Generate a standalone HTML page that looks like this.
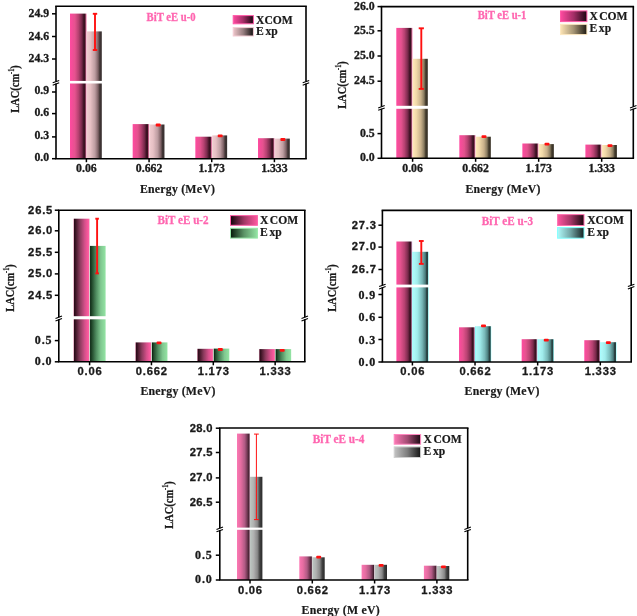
<!DOCTYPE html>
<html><head><meta charset="utf-8"><title>BiTeEu LAC charts</title>
<style>html,body{margin:0;padding:0;background:#fff;overflow:hidden;}svg{display:block;filter:blur(0.35px);}</style></head><body>
<svg width="637" height="616" viewBox="0 0 637 616">
<defs>
<linearGradient id="g0x" x1="0" y1="0" x2="1" y2="0">
<stop offset="0" stop-color="#ff4aa0"/>
<stop offset="0.3" stop-color="#e4528e"/>
<stop offset="0.5" stop-color="#b84272"/>
<stop offset="0.7" stop-color="#7a2a4c"/>
<stop offset="0.83" stop-color="#3c1222"/>
<stop offset="0.9" stop-color="#3a1020"/>
<stop offset="0.95" stop-color="#c06088"/>
<stop offset="1" stop-color="#ffa0c8"/>
</linearGradient>
<linearGradient id="g0e" x1="0" y1="0" x2="1" y2="0">
<stop offset="0" stop-color="#f8d8dc"/>
<stop offset="0.06" stop-color="#eecacd"/>
<stop offset="0.25" stop-color="#e6c0c4"/>
<stop offset="0.55" stop-color="#bc9ca0"/>
<stop offset="0.75" stop-color="#806468"/>
<stop offset="0.87" stop-color="#403434"/>
<stop offset="1" stop-color="#383030"/>
</linearGradient>
<linearGradient id="g1x" x1="0" y1="0" x2="1" y2="0">
<stop offset="0" stop-color="#ff4aa0"/>
<stop offset="0.3" stop-color="#e4528e"/>
<stop offset="0.5" stop-color="#b84272"/>
<stop offset="0.7" stop-color="#7a2a4c"/>
<stop offset="0.83" stop-color="#3c1222"/>
<stop offset="0.9" stop-color="#3a1020"/>
<stop offset="0.95" stop-color="#c06088"/>
<stop offset="1" stop-color="#ffa0c8"/>
</linearGradient>
<linearGradient id="g1e" x1="0" y1="0" x2="1" y2="0">
<stop offset="0" stop-color="#fff0c8"/>
<stop offset="0.06" stop-color="#fde6b6"/>
<stop offset="0.25" stop-color="#f0d8a8"/>
<stop offset="0.55" stop-color="#c8b08a"/>
<stop offset="0.75" stop-color="#8a7c60"/>
<stop offset="0.87" stop-color="#40382a"/>
<stop offset="1" stop-color="#383226"/>
</linearGradient>
<linearGradient id="g2x" x1="0" y1="0" x2="1" y2="0">
<stop offset="0" stop-color="#f0a0c0"/>
<stop offset="0.06" stop-color="#2a0a18"/>
<stop offset="0.12" stop-color="#3a1222"/>
<stop offset="0.4" stop-color="#8a3a5c"/>
<stop offset="0.7" stop-color="#d4508a"/>
<stop offset="0.93" stop-color="#ff5aa0"/>
<stop offset="1" stop-color="#e8a0b8"/>
</linearGradient>
<linearGradient id="g2e" x1="0" y1="0" x2="1" y2="0">
<stop offset="0" stop-color="#b8dcc0"/>
<stop offset="0.06" stop-color="#0c2814"/>
<stop offset="0.1" stop-color="#1a3c22"/>
<stop offset="0.4" stop-color="#4e8a5e"/>
<stop offset="0.7" stop-color="#80c890"/>
<stop offset="1" stop-color="#94e4a4"/>
</linearGradient>
<linearGradient id="g3x" x1="0" y1="0" x2="1" y2="0">
<stop offset="0" stop-color="#ff4aa0"/>
<stop offset="0.25" stop-color="#e4528e"/>
<stop offset="0.5" stop-color="#b84272"/>
<stop offset="0.72" stop-color="#7a2a4c"/>
<stop offset="0.84" stop-color="#3c1222"/>
<stop offset="0.89" stop-color="#3a1020"/>
<stop offset="0.95" stop-color="#a07090"/>
<stop offset="1" stop-color="#e8d8f0"/>
</linearGradient>
<linearGradient id="g3e" x1="0" y1="0" x2="1" y2="0">
<stop offset="0" stop-color="#80ffff"/>
<stop offset="0.08" stop-color="#b0f8f8"/>
<stop offset="0.3" stop-color="#a0ecec"/>
<stop offset="0.6" stop-color="#78b8b8"/>
<stop offset="0.8" stop-color="#4a7c7c"/>
<stop offset="0.88" stop-color="#2a4040"/>
<stop offset="0.94" stop-color="#284444"/>
<stop offset="1" stop-color="#90ffff"/>
</linearGradient>
<linearGradient id="g4x" x1="0" y1="0" x2="1" y2="0">
<stop offset="0" stop-color="#fc78b4"/>
<stop offset="0.3" stop-color="#e46ca0"/>
<stop offset="0.6" stop-color="#b05a84"/>
<stop offset="0.85" stop-color="#5e2e44"/>
<stop offset="0.92" stop-color="#40202e"/>
<stop offset="1" stop-color="#d8a8c4"/>
</linearGradient>
<linearGradient id="g4e" x1="0" y1="0" x2="1" y2="0">
<stop offset="0" stop-color="#c0c8c4"/>
<stop offset="0.1" stop-color="#b8c0bc"/>
<stop offset="0.3" stop-color="#b0b0b0"/>
<stop offset="0.6" stop-color="#888888"/>
<stop offset="0.8" stop-color="#404040"/>
<stop offset="1" stop-color="#2a2a2a"/>
</linearGradient>
<linearGradient id="lc0x" x1="0" y1="0" x2="1" y2="0"><stop offset="0" stop-color="#ff4aa0"/><stop offset="0.5" stop-color="#a32e66"/><stop offset="1" stop-color="#1a0610"/></linearGradient>
<linearGradient id="lc0e" x1="0" y1="0" x2="1" y2="0"><stop offset="0" stop-color="#eec6ca"/><stop offset="0.5" stop-color="#967d7f"/><stop offset="1" stop-color="#141010"/></linearGradient>
<linearGradient id="lc1x" x1="0" y1="0" x2="1" y2="0"><stop offset="0" stop-color="#ff4aa0"/><stop offset="0.5" stop-color="#a32e66"/><stop offset="1" stop-color="#1a0610"/></linearGradient>
<linearGradient id="lc1e" x1="0" y1="0" x2="1" y2="0"><stop offset="0" stop-color="#fde4b4"/><stop offset="0.5" stop-color="#a39373"/><stop offset="1" stop-color="#1e1a12"/></linearGradient>
<linearGradient id="lc2x" x1="0" y1="0" x2="1" y2="0"><stop offset="0" stop-color="#12040a"/><stop offset="0.5" stop-color="#a03764"/><stop offset="1" stop-color="#ff5aa0"/></linearGradient>
<linearGradient id="lc2e" x1="0" y1="0" x2="1" y2="0"><stop offset="0" stop-color="#061a0a"/><stop offset="0.5" stop-color="#5b9366"/><stop offset="1" stop-color="#94e4a4"/></linearGradient>
<linearGradient id="lc3x" x1="0" y1="0" x2="1" y2="0"><stop offset="0" stop-color="#ff55a0"/><stop offset="0.5" stop-color="#a33566"/><stop offset="1" stop-color="#1a0610"/></linearGradient>
<linearGradient id="lc3e" x1="0" y1="0" x2="1" y2="0"><stop offset="0" stop-color="#b0fafa"/><stop offset="0.5" stop-color="#71a3a3"/><stop offset="1" stop-color="#142222"/></linearGradient>
<linearGradient id="lc4x" x1="0" y1="0" x2="1" y2="0"><stop offset="0" stop-color="#fc78b4"/><stop offset="0.5" stop-color="#a34c74"/><stop offset="1" stop-color="#1e0a14"/></linearGradient>
<linearGradient id="lc4e" x1="0" y1="0" x2="1" y2="0"><stop offset="0" stop-color="#c4c4c4"/><stop offset="0.5" stop-color="#7d7d7d"/><stop offset="1" stop-color="#141414"/></linearGradient>
</defs>
<rect width="637" height="616" fill="#fff"/>
<g id="c0">
<rect x="70" y="13.6" width="16.7" height="67.3" fill="url(#g0x)"/>
<rect x="70" y="83.5" width="16.7" height="75.2" fill="url(#g0x)"/>
<rect x="86.7" y="31.4" width="15.1" height="49.5" fill="url(#g0e)"/>
<rect x="86.7" y="83.5" width="15.1" height="75.2" fill="url(#g0e)"/>
<rect x="132.67" y="124.1" width="16.7" height="34.6" fill="url(#g0x)"/>
<rect x="149.37" y="124.5" width="15.1" height="34.2" fill="url(#g0e)"/>
<rect x="195.34" y="136.7" width="16.7" height="22" fill="url(#g0x)"/>
<rect x="212.04" y="135.4" width="15.1" height="23.3" fill="url(#g0e)"/>
<rect x="258.01" y="138.2" width="16.7" height="20.5" fill="url(#g0x)"/>
<rect x="274.71" y="138.6" width="15.1" height="20.1" fill="url(#g0e)"/>
<g stroke="#ff1010" stroke-width="1.9" fill="none">
<line x1="95" y1="13.8" x2="95" y2="50"/>
<line x1="92.8" y1="13.8" x2="97.2" y2="13.8"/>
<line x1="92.8" y1="50" x2="97.2" y2="50"/>
</g>
<rect x="155.7" y="123.6" width="5" height="2.8" rx="1" fill="#ff1010"/>
<rect x="217.7" y="134.5" width="5" height="2.8" rx="1" fill="#ff1010"/>
<rect x="280.4" y="138.1" width="5" height="2.8" rx="1" fill="#ff1010"/>
<g stroke="#000" stroke-width="1.6" fill="none">
<line x1="55.2" y1="6.3" x2="306.8" y2="6.3"/>
<line x1="55.2" y1="158.7" x2="306.8" y2="158.7"/>
<line x1="56" y1="6.3" x2="56" y2="81.6"/>
<line x1="56" y1="83.6" x2="56" y2="158.7"/>
<line x1="306" y1="6.3" x2="306" y2="81.6"/>
<line x1="306" y1="83.6" x2="306" y2="158.7"/>
</g>
<g stroke="#000" stroke-width="1.1" fill="none">
<line x1="52.7" y1="82.8" x2="59.2" y2="80.4"/>
<line x1="52.7" y1="85.2" x2="59.2" y2="82.8"/>
<line x1="302.7" y1="82.8" x2="309.2" y2="80.4"/>
<line x1="302.7" y1="85.2" x2="309.2" y2="82.8"/>
</g>
<g stroke="#000" stroke-width="1.5">
<line x1="52" y1="13.8" x2="56" y2="13.8"/>
<line x1="52" y1="36.5" x2="56" y2="36.5"/>
<line x1="52" y1="59" x2="56" y2="59"/>
<line x1="52" y1="92" x2="56" y2="92"/>
<line x1="52" y1="113.6" x2="56" y2="113.6"/>
<line x1="52" y1="136.9" x2="56" y2="136.9"/>
<line x1="52" y1="158.7" x2="56" y2="158.7"/>
<line x1="86.4" y1="158.7" x2="86.4" y2="162.2"/>
<line x1="149.07" y1="158.7" x2="149.07" y2="162.2"/>
<line x1="211.74" y1="158.7" x2="211.74" y2="162.2"/>
<line x1="274.41" y1="158.7" x2="274.41" y2="162.2"/>
</g>
<g font-family="&quot;Liberation Serif&quot;, &quot;Times New Roman&quot;, serif" font-weight="bold" font-size="11.8" fill="#1a1a1a" stroke="#1a1a1a" stroke-width="0.3">
<text x="49.2" y="16.8" text-anchor="end">24.9</text>
<text x="49.2" y="39.5" text-anchor="end">24.6</text>
<text x="49.2" y="62" text-anchor="end">24.3</text>
</g>
<g font-family="&quot;Liberation Serif&quot;, &quot;Times New Roman&quot;, serif" font-weight="bold" font-size="11.8" fill="#1a1a1a" stroke="#1a1a1a" stroke-width="0.3">
<text x="49.2" y="94.3" text-anchor="end">0.9</text>
<text x="49.2" y="115.9" text-anchor="end">0.6</text>
<text x="49.2" y="139.2" text-anchor="end">0.3</text>
<text x="49.2" y="161" text-anchor="end">0.0</text>
</g>
<g font-family="&quot;Liberation Serif&quot;, &quot;Times New Roman&quot;, serif" font-weight="bold" font-size="11.8" fill="#1a1a1a" stroke="#1a1a1a" stroke-width="0.3">
<text x="86.4" y="172.3" text-anchor="middle">0.06</text>
<text x="149.07" y="172.3" text-anchor="middle">0.662</text>
<text x="211.74" y="172.3" text-anchor="middle">1.173</text>
<text x="274.41" y="172.3" text-anchor="middle">1.333</text>
</g>
<text x="146.6" y="20.6" font-family="&quot;Liberation Serif&quot;, &quot;Times New Roman&quot;, serif" font-weight="bold" font-size="12" fill="#ff66b0" stroke="#ff66b0" stroke-width="0.3" textLength="48.9" lengthAdjust="spacingAndGlyphs">BiT eE u-0</text>
<rect x="233.2" y="15.6" width="20.2" height="8.2" fill="url(#lc0x)" stroke="#ff5aa8" stroke-width="1"/>
<rect x="233.2" y="27.6" width="20.2" height="8.4" fill="url(#lc0e)" stroke="#f4ccd4" stroke-width="1"/>
<g font-family="&quot;Liberation Serif&quot;, &quot;Times New Roman&quot;, serif" font-weight="bold" font-size="11.6" fill="#1a1a1a" stroke="#1a1a1a" stroke-width="0.2">
<text x="256.1" y="23.5">XCOM</text>
<text x="256.1" y="34.7">E <tspan dx="-1.2">xp</tspan></text>
</g>
<text transform="translate(19.4,89) rotate(-90)" text-anchor="middle" font-family="&quot;Liberation Serif&quot;, &quot;Times New Roman&quot;, serif" font-weight="bold" font-size="13.4" fill="#1a1a1a" stroke="#1a1a1a" stroke-width="0.3" textLength="47.6" lengthAdjust="spacingAndGlyphs">LAC(cm<tspan font-size="8" dy="-5">-1</tspan><tspan dy="5">)</tspan></text>
<text x="140" y="192.5" font-family="&quot;Liberation Serif&quot;, &quot;Times New Roman&quot;, serif" font-weight="bold" font-size="11.8" letter-spacing="0.22" fill="#1a1a1a" stroke="#1a1a1a" stroke-width="0.2">Energy (MeV)</text>
</g>
<g id="c1">
<rect x="396.3" y="27.9" width="16.3" height="77.9" fill="url(#g1x)"/>
<rect x="396.3" y="108.8" width="16.3" height="49.5" fill="url(#g1x)"/>
<rect x="412.6" y="58.8" width="15.2" height="47" fill="url(#g1e)"/>
<rect x="412.6" y="108.8" width="15.2" height="49.5" fill="url(#g1e)"/>
<rect x="459.33" y="135.2" width="16.3" height="23.1" fill="url(#g1x)"/>
<rect x="475.63" y="136.7" width="15.2" height="21.6" fill="url(#g1e)"/>
<rect x="522.36" y="143.5" width="16.3" height="14.8" fill="url(#g1x)"/>
<rect x="538.66" y="144.1" width="15.2" height="14.2" fill="url(#g1e)"/>
<rect x="585.39" y="144.6" width="16.3" height="13.7" fill="url(#g1x)"/>
<rect x="601.69" y="145" width="15.2" height="13.3" fill="url(#g1e)"/>
<g stroke="#ff1010" stroke-width="1.9" fill="none">
<line x1="421.3" y1="28.3" x2="421.3" y2="88.9"/>
<line x1="418.7" y1="28.3" x2="423.9" y2="28.3"/>
<line x1="418.7" y1="88.9" x2="423.9" y2="88.9"/>
</g>
<rect x="481.5" y="135.3" width="5" height="2.8" rx="1" fill="#ff1010"/>
<rect x="544.5" y="142.8" width="5" height="2.8" rx="1" fill="#ff1010"/>
<rect x="607.5" y="144.3" width="5" height="2.8" rx="1" fill="#ff1010"/>
<g stroke="#000" stroke-width="1.6" fill="none">
<line x1="380.7" y1="6.6" x2="634.1" y2="6.6"/>
<line x1="380.7" y1="158.3" x2="634.1" y2="158.3"/>
<line x1="381.5" y1="6.6" x2="381.5" y2="106.7"/>
<line x1="381.5" y1="108.7" x2="381.5" y2="158.3"/>
<line x1="633.3" y1="6.6" x2="633.3" y2="106.7"/>
<line x1="633.3" y1="108.7" x2="633.3" y2="158.3"/>
</g>
<g stroke="#000" stroke-width="1.1" fill="none">
<line x1="378.2" y1="107.9" x2="384.7" y2="105.5"/>
<line x1="378.2" y1="110.3" x2="384.7" y2="107.9"/>
<line x1="630" y1="107.9" x2="636.5" y2="105.5"/>
<line x1="630" y1="110.3" x2="636.5" y2="107.9"/>
</g>
<g stroke="#000" stroke-width="1.5">
<line x1="377.5" y1="6.6" x2="381.5" y2="6.6"/>
<line x1="377.5" y1="30.8" x2="381.5" y2="30.8"/>
<line x1="377.5" y1="56" x2="381.5" y2="56"/>
<line x1="377.5" y1="81.2" x2="381.5" y2="81.2"/>
<line x1="377.5" y1="133.6" x2="381.5" y2="133.6"/>
<line x1="377.5" y1="158.3" x2="381.5" y2="158.3"/>
<line x1="412.6" y1="158.3" x2="412.6" y2="161.8"/>
<line x1="475.63" y1="158.3" x2="475.63" y2="161.8"/>
<line x1="538.66" y1="158.3" x2="538.66" y2="161.8"/>
<line x1="601.69" y1="158.3" x2="601.69" y2="161.8"/>
</g>
<g font-family="&quot;Liberation Serif&quot;, &quot;Times New Roman&quot;, serif" font-weight="bold" font-size="11.8" fill="#1a1a1a" stroke="#1a1a1a" stroke-width="0.3">
<text x="374.7" y="9.6" text-anchor="end">26.0</text>
<text x="374.7" y="33.8" text-anchor="end">25.5</text>
<text x="374.7" y="59" text-anchor="end">25.0</text>
<text x="374.7" y="84.2" text-anchor="end">24.5</text>
</g>
<g font-family="&quot;Liberation Serif&quot;, &quot;Times New Roman&quot;, serif" font-weight="bold" font-size="11.8" fill="#1a1a1a" stroke="#1a1a1a" stroke-width="0.3">
<text x="374.7" y="136.6" text-anchor="end">0.5</text>
<text x="374.7" y="161.3" text-anchor="end">0.0</text>
</g>
<g font-family="&quot;Liberation Serif&quot;, &quot;Times New Roman&quot;, serif" font-weight="bold" font-size="11.8" fill="#1a1a1a" stroke="#1a1a1a" stroke-width="0.3">
<text x="412.6" y="172.3" text-anchor="middle">0.06</text>
<text x="475.63" y="172.3" text-anchor="middle">0.662</text>
<text x="538.66" y="172.3" text-anchor="middle">1.173</text>
<text x="601.69" y="172.3" text-anchor="middle">1.333</text>
</g>
<text x="477.8" y="19.3" font-family="&quot;Liberation Serif&quot;, &quot;Times New Roman&quot;, serif" font-weight="bold" font-size="12" fill="#ff66b0" stroke="#ff66b0" stroke-width="0.3" textLength="48.5" lengthAdjust="spacingAndGlyphs">BiT eE u-1</text>
<rect x="560.5" y="10.9" width="26.4" height="10.7" fill="url(#lc1x)" stroke="#ff5aa8" stroke-width="1"/>
<rect x="560.5" y="24.3" width="26.4" height="10.3" fill="url(#lc1e)" stroke="#fde8c0" stroke-width="1"/>
<g font-family="&quot;Liberation Serif&quot;, &quot;Times New Roman&quot;, serif" font-weight="bold" font-size="11.6" fill="#1a1a1a" stroke="#1a1a1a" stroke-width="0.2">
<text x="589.4" y="20.05">X <tspan dx="-1.5">COM</tspan></text>
<text x="589.4" y="32.35">E <tspan dx="-1.2">xp</tspan></text>
</g>
<text transform="translate(345.7,85) rotate(-90)" text-anchor="middle" font-family="&quot;Liberation Serif&quot;, &quot;Times New Roman&quot;, serif" font-weight="bold" font-size="13.4" fill="#1a1a1a" stroke="#1a1a1a" stroke-width="0.3" textLength="47.6" lengthAdjust="spacingAndGlyphs">LAC(cm<tspan font-size="8" dy="-5">-1</tspan><tspan dy="5">)</tspan></text>
<text x="465.5" y="193" font-family="&quot;Liberation Serif&quot;, &quot;Times New Roman&quot;, serif" font-weight="bold" font-size="11.8" letter-spacing="0.22" fill="#1a1a1a" stroke="#1a1a1a" stroke-width="0.2">Energy (MeV)</text>
</g>
<g id="c2">
<rect x="73.4" y="218.7" width="16.2" height="97.5" fill="url(#g2x)"/>
<rect x="73.4" y="319.3" width="16.2" height="42.5" fill="url(#g2x)"/>
<rect x="89.6" y="245.9" width="16" height="70.3" fill="url(#g2e)"/>
<rect x="89.6" y="319.3" width="16" height="42.5" fill="url(#g2e)"/>
<rect x="135.25" y="342.4" width="16.2" height="19.4" fill="url(#g2x)"/>
<rect x="151.45" y="342.4" width="16" height="19.4" fill="url(#g2e)"/>
<rect x="197.1" y="348.8" width="16.2" height="13" fill="url(#g2x)"/>
<rect x="213.3" y="348.6" width="16" height="13.2" fill="url(#g2e)"/>
<rect x="258.95" y="349.1" width="16.2" height="12.7" fill="url(#g2x)"/>
<rect x="275.15" y="349.1" width="16" height="12.7" fill="url(#g2e)"/>
<g stroke="#ff1010" stroke-width="1.9" fill="none">
<line x1="97.1" y1="218.7" x2="97.1" y2="273.4"/>
<line x1="95.3" y1="218.7" x2="98.9" y2="218.7"/>
<line x1="95.3" y1="273.4" x2="98.9" y2="273.4"/>
</g>
<rect x="156.5" y="341.5" width="5" height="2.8" rx="1" fill="#ff1010"/>
<rect x="217.8" y="348.1" width="5" height="2.8" rx="1" fill="#ff1010"/>
<rect x="279.7" y="349" width="5" height="2.8" rx="1" fill="#ff1010"/>
<g stroke="#000" stroke-width="1.6" fill="none">
<line x1="58" y1="210.2" x2="305.6" y2="210.2"/>
<line x1="58" y1="361.8" x2="305.6" y2="361.8"/>
<line x1="58.8" y1="210.2" x2="58.8" y2="317.3"/>
<line x1="58.8" y1="319.3" x2="58.8" y2="361.8"/>
<line x1="304.8" y1="210.2" x2="304.8" y2="317.3"/>
<line x1="304.8" y1="319.3" x2="304.8" y2="361.8"/>
</g>
<g stroke="#000" stroke-width="1.1" fill="none">
<line x1="55.5" y1="318.5" x2="62" y2="316.1"/>
<line x1="55.5" y1="320.9" x2="62" y2="318.5"/>
<line x1="301.5" y1="318.5" x2="308" y2="316.1"/>
<line x1="301.5" y1="320.9" x2="308" y2="318.5"/>
</g>
<g stroke="#000" stroke-width="1.5">
<line x1="54.8" y1="210.2" x2="58.8" y2="210.2"/>
<line x1="54.8" y1="230.8" x2="58.8" y2="230.8"/>
<line x1="54.8" y1="252.3" x2="58.8" y2="252.3"/>
<line x1="54.8" y1="273.9" x2="58.8" y2="273.9"/>
<line x1="54.8" y1="295.3" x2="58.8" y2="295.3"/>
<line x1="54.8" y1="340.6" x2="58.8" y2="340.6"/>
<line x1="54.8" y1="361.8" x2="58.8" y2="361.8"/>
<line x1="89.6" y1="361.8" x2="89.6" y2="365.3"/>
<line x1="151.45" y1="361.8" x2="151.45" y2="365.3"/>
<line x1="213.3" y1="361.8" x2="213.3" y2="365.3"/>
<line x1="275.15" y1="361.8" x2="275.15" y2="365.3"/>
</g>
<g font-family="&quot;Liberation Sans&quot;, Arial, sans-serif" font-weight="bold" font-size="11.2" fill="#1a1a1a" stroke="#1a1a1a" stroke-width="0.3" letter-spacing="0.8">
<text x="53.1" y="213.5" text-anchor="end">26.5</text>
<text x="53.1" y="234.1" text-anchor="end">26.0</text>
<text x="53.1" y="255.6" text-anchor="end">25.5</text>
<text x="53.1" y="277.2" text-anchor="end">25.0</text>
<text x="53.1" y="298.6" text-anchor="end">24.5</text>
</g>
<g font-family="&quot;Liberation Serif&quot;, &quot;Times New Roman&quot;, serif" font-weight="bold" font-size="12" fill="#1a1a1a" stroke="#1a1a1a" stroke-width="0.3" letter-spacing="0.9">
<text x="52.5" y="343.9" text-anchor="end">0.5</text>
<text x="52.5" y="365.1" text-anchor="end">0.0</text>
</g>
<g font-family="&quot;Liberation Sans&quot;, Arial, sans-serif" font-weight="bold" font-size="11.2" fill="#1a1a1a" stroke="#1a1a1a" stroke-width="0.3" letter-spacing="0.8">
<text x="90" y="374.8" text-anchor="middle">0.06</text>
<text x="151.85" y="374.8" text-anchor="middle">0.662</text>
<text x="213.7" y="374.8" text-anchor="middle">1.173</text>
<text x="275.55" y="374.8" text-anchor="middle">1.333</text>
</g>
<text x="157.6" y="224.2" font-family="&quot;Liberation Serif&quot;, &quot;Times New Roman&quot;, serif" font-weight="bold" font-size="12" fill="#ff66b0" stroke="#ff66b0" stroke-width="0.3" textLength="51" lengthAdjust="spacingAndGlyphs">BiT eE u-2</text>
<rect x="230.5" y="215.6" width="26.9" height="9.7" fill="url(#lc2x)" stroke="#ff60a8" stroke-width="1"/>
<rect x="230.5" y="228.3" width="26.9" height="9.8" fill="url(#lc2e)" stroke="#98e8a8" stroke-width="1"/>
<g font-family="&quot;Liberation Serif&quot;, &quot;Times New Roman&quot;, serif" font-weight="bold" font-size="11.6" fill="#1a1a1a" stroke="#1a1a1a" stroke-width="0.2">
<text x="260" y="224.25">X <tspan dx="-1.5">COM</tspan></text>
<text x="260" y="236.1">E <tspan dx="-1.2">xp</tspan></text>
</g>
<text transform="translate(13.7,288) rotate(-90)" text-anchor="middle" font-family="&quot;Liberation Serif&quot;, &quot;Times New Roman&quot;, serif" font-weight="bold" font-size="13.4" fill="#1a1a1a" stroke="#1a1a1a" stroke-width="0.3" textLength="47.6" lengthAdjust="spacingAndGlyphs">LAC(cm<tspan font-size="8" dy="-5">-1</tspan><tspan dy="5">)</tspan></text>
<text x="140.5" y="394.5" font-family="&quot;Liberation Serif&quot;, &quot;Times New Roman&quot;, serif" font-weight="bold" font-size="11.8" letter-spacing="0.22" fill="#1a1a1a" stroke="#1a1a1a" stroke-width="0.2">Energy (MeV)</text>
</g>
<g id="c3">
<rect x="396.4" y="241.5" width="16" height="43.1" fill="url(#g3x)"/>
<rect x="396.4" y="287.4" width="16" height="74.6" fill="url(#g3x)"/>
<rect x="412.4" y="251.8" width="16.2" height="32.8" fill="url(#g3e)"/>
<rect x="412.4" y="287.4" width="16.2" height="74.6" fill="url(#g3e)"/>
<rect x="459.03" y="327.3" width="16" height="34.7" fill="url(#g3x)"/>
<rect x="475.03" y="326.2" width="16.2" height="35.8" fill="url(#g3e)"/>
<rect x="521.66" y="339.2" width="16" height="22.8" fill="url(#g3x)"/>
<rect x="537.66" y="339.2" width="16.2" height="22.8" fill="url(#g3e)"/>
<rect x="584.29" y="340.2" width="16" height="21.8" fill="url(#g3x)"/>
<rect x="600.29" y="342.2" width="16.2" height="19.8" fill="url(#g3e)"/>
<g stroke="#ff1010" stroke-width="1.9" fill="none">
<line x1="421.3" y1="241" x2="421.3" y2="263.9"/>
<line x1="418.9" y1="241" x2="423.7" y2="241"/>
<line x1="418.9" y1="263.9" x2="423.7" y2="263.9"/>
</g>
<rect x="481" y="324.5" width="5" height="2.8" rx="1" fill="#ff1010"/>
<rect x="543.8" y="338.7" width="5" height="2.8" rx="1" fill="#ff1010"/>
<rect x="605.9" y="341.3" width="5" height="2.8" rx="1" fill="#ff1010"/>
<g stroke="#000" stroke-width="1.6" fill="none">
<line x1="381.6" y1="210.4" x2="632" y2="210.4"/>
<line x1="381.6" y1="362" x2="632" y2="362"/>
<line x1="382.4" y1="210.4" x2="382.4" y2="285.4"/>
<line x1="382.4" y1="287.4" x2="382.4" y2="362"/>
<line x1="631.2" y1="210.4" x2="631.2" y2="285.4"/>
<line x1="631.2" y1="287.4" x2="631.2" y2="362"/>
</g>
<g stroke="#000" stroke-width="1.1" fill="none">
<line x1="379.1" y1="286.6" x2="385.6" y2="284.2"/>
<line x1="379.1" y1="289" x2="385.6" y2="286.6"/>
<line x1="627.9" y1="286.6" x2="634.4" y2="284.2"/>
<line x1="627.9" y1="289" x2="634.4" y2="286.6"/>
</g>
<g stroke="#000" stroke-width="1.5">
<line x1="378.4" y1="225.2" x2="382.4" y2="225.2"/>
<line x1="378.4" y1="247.1" x2="382.4" y2="247.1"/>
<line x1="378.4" y1="269.5" x2="382.4" y2="269.5"/>
<line x1="378.4" y1="294.5" x2="382.4" y2="294.5"/>
<line x1="378.4" y1="317.3" x2="382.4" y2="317.3"/>
<line x1="378.4" y1="339.5" x2="382.4" y2="339.5"/>
<line x1="378.4" y1="362" x2="382.4" y2="362"/>
<line x1="412.4" y1="362" x2="412.4" y2="365.5"/>
<line x1="475.03" y1="362" x2="475.03" y2="365.5"/>
<line x1="537.66" y1="362" x2="537.66" y2="365.5"/>
<line x1="600.29" y1="362" x2="600.29" y2="365.5"/>
</g>
<g font-family="&quot;Liberation Sans&quot;, Arial, sans-serif" font-weight="bold" font-size="11.2" fill="#1a1a1a" stroke="#1a1a1a" stroke-width="0.3" letter-spacing="0.8">
<text x="376.7" y="228.5" text-anchor="end">27.3</text>
<text x="376.7" y="250.4" text-anchor="end">27.0</text>
<text x="376.7" y="272.8" text-anchor="end">26.7</text>
</g>
<g font-family="&quot;Liberation Serif&quot;, &quot;Times New Roman&quot;, serif" font-weight="bold" font-size="12" fill="#1a1a1a" stroke="#1a1a1a" stroke-width="0.3" letter-spacing="0.9">
<text x="376.1" y="298.6" text-anchor="end">0.9</text>
<text x="376.1" y="321.4" text-anchor="end">0.6</text>
<text x="376.1" y="343.6" text-anchor="end">0.3</text>
<text x="376.1" y="366.1" text-anchor="end">0.0</text>
</g>
<g font-family="&quot;Liberation Sans&quot;, Arial, sans-serif" font-weight="bold" font-size="11.2" fill="#1a1a1a" stroke="#1a1a1a" stroke-width="0.3" letter-spacing="0.8">
<text x="412.8" y="375" text-anchor="middle">0.06</text>
<text x="475.43" y="375" text-anchor="middle">0.662</text>
<text x="538.06" y="375" text-anchor="middle">1.173</text>
<text x="600.69" y="375" text-anchor="middle">1.333</text>
</g>
<text x="481.8" y="225.2" font-family="&quot;Liberation Serif&quot;, &quot;Times New Roman&quot;, serif" font-weight="bold" font-size="12" fill="#ff66b0" stroke="#ff66b0" stroke-width="0.3" textLength="51.2" lengthAdjust="spacingAndGlyphs">BiT eE u-3</text>
<rect x="557.6" y="214.6" width="26.4" height="10.9" fill="url(#lc3x)" stroke="#ff70b0" stroke-width="1"/>
<rect x="557.6" y="227.6" width="26.4" height="10.6" fill="url(#lc3e)" stroke="#80ffff" stroke-width="1"/>
<g font-family="&quot;Liberation Serif&quot;, &quot;Times New Roman&quot;, serif" font-weight="bold" font-size="11.6" fill="#1a1a1a" stroke="#1a1a1a" stroke-width="0.2">
<text x="587.2" y="223.85">XCOM</text>
<text x="587.2" y="235.8">E <tspan dx="-1.2">xp</tspan></text>
</g>
<text transform="translate(336.2,288) rotate(-90)" text-anchor="middle" font-family="&quot;Liberation Serif&quot;, &quot;Times New Roman&quot;, serif" font-weight="bold" font-size="13.4" fill="#1a1a1a" stroke="#1a1a1a" stroke-width="0.3" textLength="47.6" lengthAdjust="spacingAndGlyphs">LAC(cm<tspan font-size="8" dy="-5">-1</tspan><tspan dy="5">)</tspan></text>
<text x="464.6" y="394.9" font-family="&quot;Liberation Serif&quot;, &quot;Times New Roman&quot;, serif" font-weight="bold" font-size="11.8" letter-spacing="0.22" fill="#1a1a1a" stroke="#1a1a1a" stroke-width="0.2">Energy (MeV)</text>
</g>
<g id="c4">
<rect x="237" y="433.6" width="13" height="94" fill="url(#g4x)"/>
<rect x="237" y="529.8" width="13" height="50.2" fill="url(#g4x)"/>
<rect x="250" y="476.8" width="12.4" height="50.8" fill="url(#g4e)"/>
<rect x="250" y="529.8" width="12.4" height="50.2" fill="url(#g4e)"/>
<rect x="299.3" y="556.4" width="13" height="23.6" fill="url(#g4x)"/>
<rect x="312.3" y="557.3" width="12.4" height="22.7" fill="url(#g4e)"/>
<rect x="361.6" y="564.8" width="13" height="15.2" fill="url(#g4x)"/>
<rect x="374.6" y="564.8" width="12.4" height="15.2" fill="url(#g4e)"/>
<rect x="423.9" y="565.7" width="13" height="14.3" fill="url(#g4x)"/>
<rect x="436.9" y="566" width="12.4" height="14" fill="url(#g4e)"/>
<g stroke="#ff1010" stroke-width="1" fill="none">
<line x1="256.4" y1="434.1" x2="256.4" y2="519.6"/>
<line x1="254" y1="434.1" x2="258.8" y2="434.1"/>
<line x1="254" y1="519.6" x2="258.8" y2="519.6"/>
</g>
<rect x="316.2" y="555.8" width="5" height="2.8" rx="1" fill="#ff1010"/>
<rect x="378.6" y="563.9" width="5" height="2.8" rx="1" fill="#ff1010"/>
<rect x="441" y="565.4" width="5" height="2.8" rx="1" fill="#ff1010"/>
<g stroke="#000" stroke-width="1.6" fill="none">
<line x1="219" y1="428" x2="468.5" y2="428"/>
<line x1="219" y1="580" x2="468.5" y2="580"/>
<line x1="219.8" y1="428" x2="219.8" y2="528.2"/>
<line x1="219.8" y1="530.2" x2="219.8" y2="580"/>
<line x1="467.7" y1="428" x2="467.7" y2="528.2"/>
<line x1="467.7" y1="530.2" x2="467.7" y2="580"/>
</g>
<g stroke="#000" stroke-width="1.1" fill="none">
<line x1="216.5" y1="529.4" x2="223" y2="527"/>
<line x1="216.5" y1="531.8" x2="223" y2="529.4"/>
<line x1="464.4" y1="529.4" x2="470.9" y2="527"/>
<line x1="464.4" y1="531.8" x2="470.9" y2="529.4"/>
</g>
<g stroke="#000" stroke-width="1.5">
<line x1="215.8" y1="428.2" x2="219.8" y2="428.2"/>
<line x1="215.8" y1="452.5" x2="219.8" y2="452.5"/>
<line x1="215.8" y1="477.9" x2="219.8" y2="477.9"/>
<line x1="215.8" y1="502.2" x2="219.8" y2="502.2"/>
<line x1="215.8" y1="555.2" x2="219.8" y2="555.2"/>
<line x1="215.8" y1="580" x2="219.8" y2="580"/>
<line x1="250" y1="580" x2="250" y2="583.5"/>
<line x1="312.3" y1="580" x2="312.3" y2="583.5"/>
<line x1="374.6" y1="580" x2="374.6" y2="583.5"/>
<line x1="436.9" y1="580" x2="436.9" y2="583.5"/>
</g>
<g font-family="&quot;Liberation Sans&quot;, Arial, sans-serif" font-weight="bold" font-size="11.2" fill="#1a1a1a" stroke="#1a1a1a" stroke-width="0.3" letter-spacing="0.8">
<text x="212.7" y="431.5" text-anchor="end" letter-spacing="0.3">28.0</text>
<text x="212.7" y="455.8" text-anchor="end" letter-spacing="0.3">27.5</text>
<text x="212.7" y="481.2" text-anchor="end" letter-spacing="0.3">27.0</text>
<text x="212.7" y="505.5" text-anchor="end" letter-spacing="0.3">26.5</text>
</g>
<g font-family="&quot;Liberation Serif&quot;, &quot;Times New Roman&quot;, serif" font-weight="bold" font-size="12" fill="#1a1a1a" stroke="#1a1a1a" stroke-width="0.3" letter-spacing="0.9">
<text x="212.7" y="558.5" text-anchor="end">0.5</text>
<text x="212.7" y="583.3" text-anchor="end">0.0</text>
</g>
<g font-family="&quot;Liberation Sans&quot;, Arial, sans-serif" font-weight="bold" font-size="11.2" fill="#1a1a1a" stroke="#1a1a1a" stroke-width="0.3" letter-spacing="0.8">
<text x="250.4" y="593.5" text-anchor="middle">0.06</text>
<text x="312.7" y="593.5" text-anchor="middle">0.662</text>
<text x="375" y="593.5" text-anchor="middle">1.173</text>
<text x="437.3" y="593.5" text-anchor="middle">1.333</text>
</g>
<text x="312.8" y="442.7" font-family="&quot;Liberation Serif&quot;, &quot;Times New Roman&quot;, serif" font-weight="bold" font-size="12" fill="#ff66b0" stroke="#ff66b0" stroke-width="0.3" textLength="51.6" lengthAdjust="spacingAndGlyphs">BiT eE u-4</text>
<rect x="394.2" y="434.5" width="26.4" height="9.7" fill="url(#lc4x)" stroke="#ff88c0" stroke-width="1"/>
<rect x="394.2" y="446.9" width="26.4" height="10.6" fill="url(#lc4e)" stroke="#d0d0d0" stroke-width="1"/>
<g font-family="&quot;Liberation Serif&quot;, &quot;Times New Roman&quot;, serif" font-weight="bold" font-size="11.6" fill="#1a1a1a" stroke="#1a1a1a" stroke-width="0.2">
<text x="423.6" y="443.15">X <tspan dx="-1.5">COM</tspan></text>
<text x="423.6" y="455.1">E <tspan dx="-1.2">xp</tspan></text>
</g>
<text transform="translate(172.5,505) rotate(-90)" text-anchor="middle" font-family="&quot;Liberation Serif&quot;, &quot;Times New Roman&quot;, serif" font-weight="bold" font-size="13.4" fill="#1a1a1a" stroke="#1a1a1a" stroke-width="0.3" textLength="47.6" lengthAdjust="spacingAndGlyphs">LAC(cm<tspan font-size="8" dy="-5">-1</tspan><tspan dy="5">)</tspan></text>
<text x="301.6" y="613.5" font-family="&quot;Liberation Serif&quot;, &quot;Times New Roman&quot;, serif" font-weight="bold" font-size="11.8" letter-spacing="0.22" fill="#1a1a1a" stroke="#1a1a1a" stroke-width="0.2">Energy (M eV)</text>
</g>
</svg></body></html>
